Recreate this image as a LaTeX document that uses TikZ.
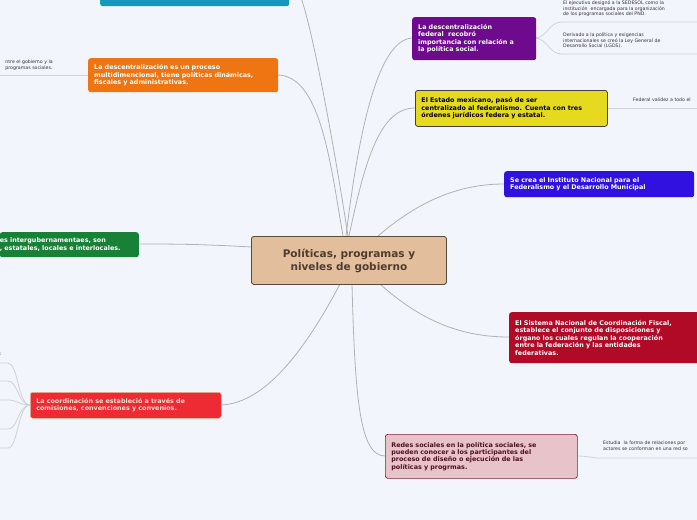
\documentclass[tikz,border=0pt]{standalone}
\usepackage{fontspec}
\setmainfont{DejaVu Sans}
\begin{document}
\begin{tikzpicture}[x=1pt,y=-1pt,
 box/.style={rounded corners=2.5pt,inner sep=0pt,font=\bfseries\fontsize{6.4}{7.4}\selectfont,align=left},
 tiny/.style={font=\fontsize{4.7}{5.5}\selectfont,align=left,text=black!80,inner sep=0pt,anchor=north west},
 con/.style={draw=gray!60,line width=0.8pt},
 sub/.style={draw=gray!35,line width=0.8pt}]
\fill[fill={rgb,255:red,243;green,245;blue,253}] (0,0) rectangle (697,520);
\useasboundingbox (0,0) rectangle (697,520);
\definecolor{teal}{RGB}{20,153,187}
\definecolor{orng}{RGB}{238,117,18}
\definecolor{purp}{RGB}{110,10,140}
\definecolor{yell}{RGB}{230,218,30}
\definecolor{blu}{RGB}{48,17,224}
\definecolor{grn}{RGB}{23,130,54}
\definecolor{cent}{RGB}{226,190,156}
\definecolor{crim}{RGB}{176,10,39}
\definecolor{redd}{RGB}{238,42,51}
\definecolor{pnk}{RGB}{232,196,202}
% connectors
\draw[con] (348,236) .. controls (330,120) and (310,20) .. (300,-5);
\draw[con] (343,236) .. controls (330,160) and (320,75) .. (277,75);
\draw[con] (346,236) .. controls (360,120) and (380,40) .. (412,38);
\draw[con] (349,236) .. controls (365,160) and (380,108) .. (415,108);
\draw[con] (378,236) .. controls (420,200) and (460,184) .. (504,184);
\draw[con] (251,247) .. controls (200,244) and (170,244) .. (139,244);
\draw[con] (380,284) .. controls (420,320) and (460,337) .. (509,337);
\draw[con] (340,284) .. controls (300,360) and (260,405) .. (219,405);
\draw[con] (352,284) .. controls (355,400) and (360,456) .. (385,456);
% sub-branch lines
\draw[sub] (534,38) .. controls (548,38) and (548,22) .. (562,22) -- (697,22);
\draw[sub] (534,38) .. controls (548,38) and (548,54) .. (562,54) -- (697,54);
\draw[sub] (605,108) -- (697,108);
\draw[sub] (88,75) -- (0,75);
\draw[sub] (575,456) .. controls (590,456) and (590,458) .. (600,458) -- (697,458);
\foreach \yy in {363,381,400,429,448}{
 \draw[sub] (30,405) .. controls (18,405) and (18,\yy) .. (8,\yy) -- (0,\yy);}
% nodes
\node[box,fill=teal,minimum width=189pt,minimum height=16pt,anchor=north west] (t) at (100,-10) {};
\node[box,fill=orng,text=white,minimum width=188pt,minimum height=34pt,anchor=north west,text width=178pt,inner xsep=6pt] (o) at (88,58) {La descentralización es un proceso\\multidimencional, tiene políticas dinámicas,\\fiscales y administrativas.};
\node[box,fill=purp,text=white,minimum width=122pt,minimum height=43pt,anchor=north west,text width=112pt,inner xsep=6pt] (p) at (412,17) {La descentralización\\federal\ \ recobró\\importancia con relación a\\la política social.};
\node[box,fill=yell,draw=black!75,line width=0.8pt,text=black,minimum width=190pt,minimum height=36pt,anchor=north west,text width=180pt,inner xsep=6pt] (y) at (415,90) {El Estado mexicano, pasó de ser\\centralizado al federalismo. Cuenta con tres\\órdenes jurídicos federa y estatal.};
\node[box,fill=blu,text=white,minimum width=188pt,minimum height=26pt,anchor=north west,text width=178pt,inner xsep=6pt] (b) at (504,171) {Se crea el Instituto Nacional para el\\Federalismo y el Desarrollo Municipal};
\node[box,fill=grn,text=white,minimum height=25pt,anchor=north east,text width=139pt] (g) at (139,232) {es intergubernamentaes, son\\, estatales, locales e interlocales.};
\node[box,fill=cent,draw={rgb,255:red,90;green,74;blue,58},line width=0.9pt,text={rgb,255:red,80;green,60;blue,45},font=\bfseries\fontsize{10.5}{13}\selectfont,align=center,minimum width=195pt,minimum height=48pt,anchor=north west] (cn) at (251,236) {Políticas, programas y\\niveles de gobierno};
\node[box,fill=crim,text=white,minimum width=188pt,minimum height=51pt,anchor=north west,text width=178pt,inner xsep=6pt] (cr) at (509,312) {El Sistema Nacional de Coordinación Fiscal,\\establece el conjunto de disposiciones y\\órgano los cuales regulan la cooperación\\entre la federación y las entidades\\federativas.};
\node[box,fill=redd,draw=cent,line width=0.5pt,text={rgb,255:red,250;green,225;blue,210},minimum width=189pt,minimum height=26pt,anchor=north west,text width=179pt,inner xsep=6pt] (r) at (30,392) {La coordinación se estableció a través de\\comisiones, convenciones y convenios.};
\node[box,fill=pnk,draw={rgb,255:red,122;green,32;blue,48},line width=0.7pt,text={rgb,255:red,80;green,15;blue,30},minimum width=190pt,minimum height=44pt,anchor=north west,text width=180pt,inner xsep=6pt] (pk) at (385,434) {Redes sociales en la política sociales, se\\pueden conocer a los participantes del\\proceso de diseño o ejecución de las\\políticas y progrmas.};
% small texts
\node[tiny] (s1) at (563,1) {El ejecutivo designó a la SEDESOL como la\\institución\ \ encargada para la organización\\de los programas sociales del PND.};
\node[tiny] (s2) at (563,33) {Derivado a la política y exigencias\\internacionales se creó la Ley General de\\Desarrollo Social (LGDS).};
\node[tiny] (s3) at (633,98) {Federal validez a todo el};
\node[tiny,anchor=north east] (s4) at (53,60) {ntre el gobierno y la\\programas sociales.};
\node[tiny] (s5) at (603,441) {Estudia\ \ la forma de relaciones por\\actores se conforman en una red so};
\node[tiny] (s6) at (0,353) {:};
\end{tikzpicture}
\end{document}
